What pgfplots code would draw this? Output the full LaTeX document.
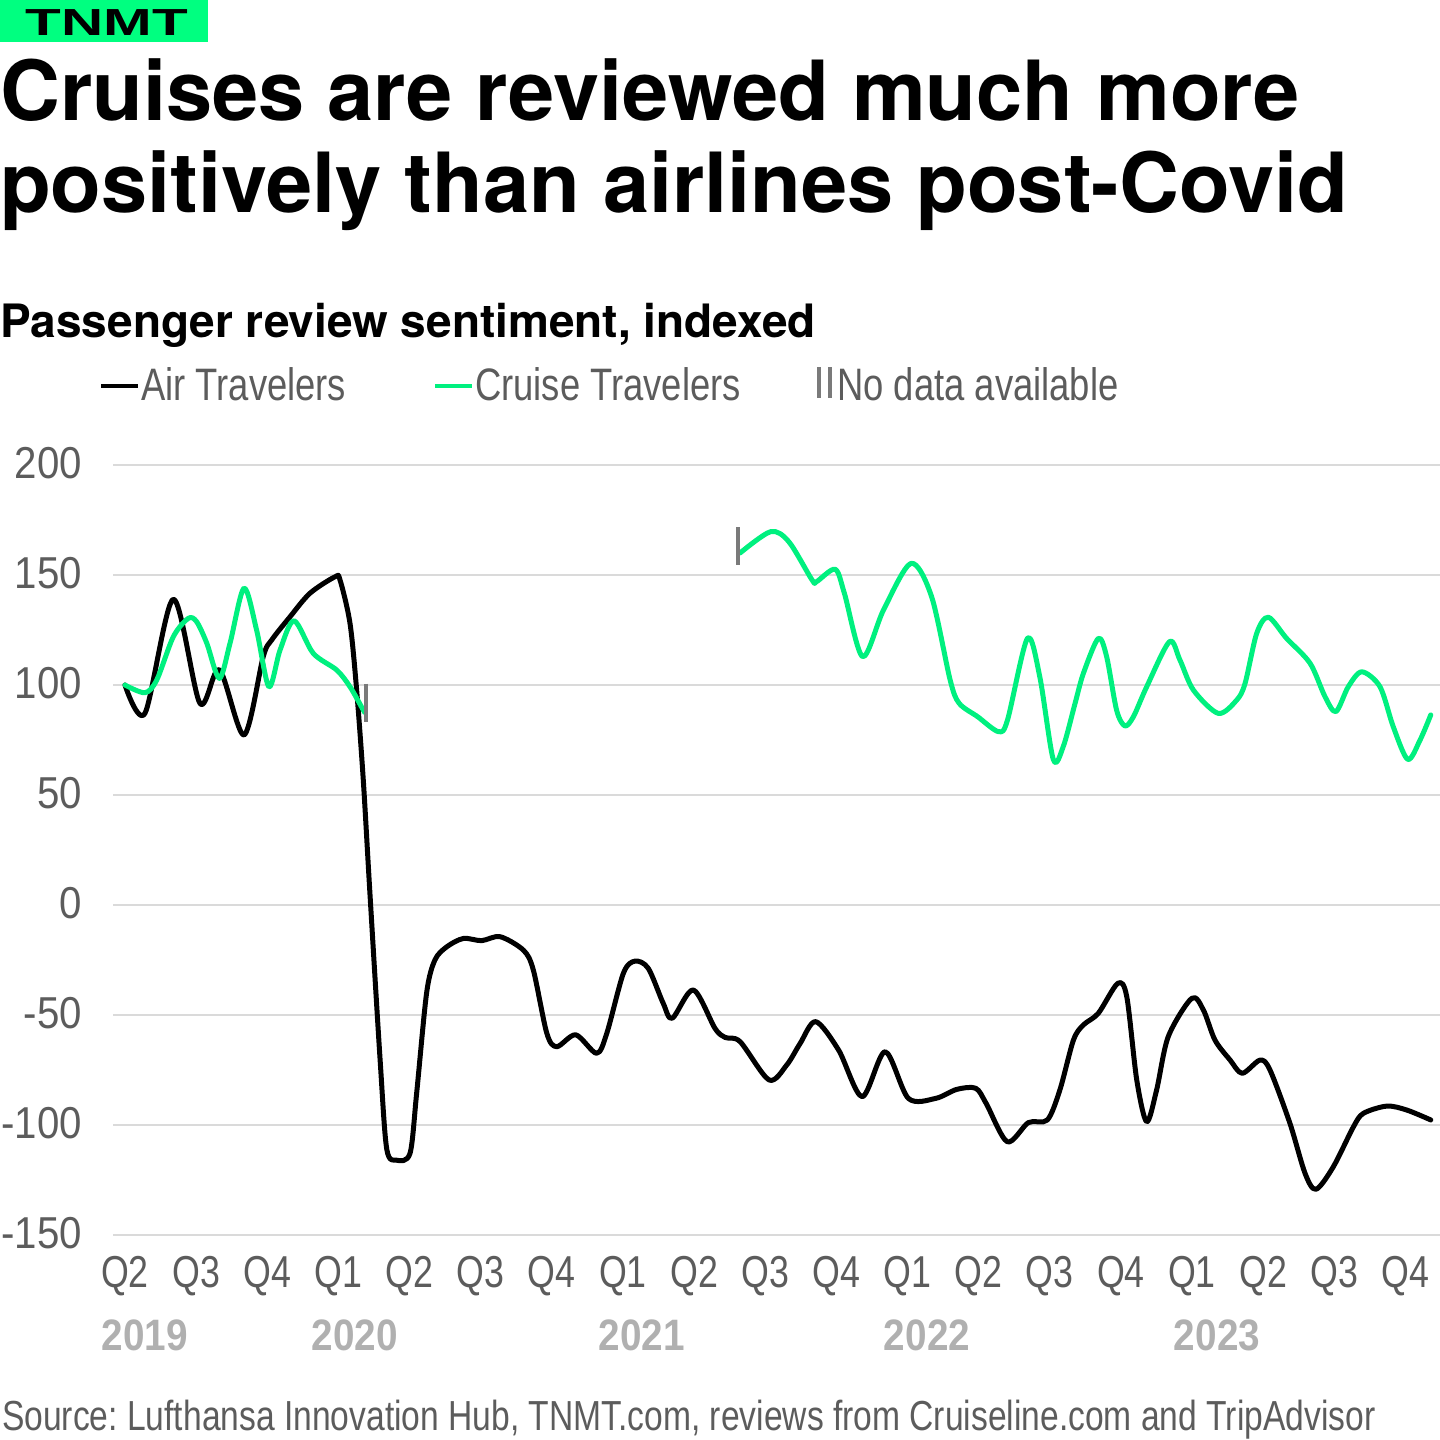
\documentclass[border=0pt]{standalone}
\usepackage{pgfplots}
\pgfplotsset{compat=1.18}
\usepackage{fontspec}
\setmainfont{Liberation Sans}
\newfontfamily\titlefont{TeX Gyre Heros}
\newfontfamily\narrowfont[FakeStretch=0.8]{Liberation Sans}
\newfontfamily\digitfont[FakeStretch=0.9]{Liberation Sans}
\newfontfamily\yearfont[FakeStretch=0.88]{Liberation Sans}
\newfontfamily\logofont[FakeStretch=1.55]{Liberation Sans}
\frenchspacing

\definecolor{cruise}{HTML}{00F07F}
\definecolor{logogreen}{HTML}{00FF80}
\definecolor{txtgray}{HTML}{5C5C5C}
\definecolor{yeargray}{HTML}{B0B0B0}
\definecolor{gridgray}{HTML}{DADADA}
\definecolor{bargray}{HTML}{7A7A7A}

% x = months since April 2019
\pgfplotstableread{
m v
0 100
0.84 87.1
2.04 139
3.16 91.7
3.98 107
5.02 77.3
5.83 112.9
6.19 120.5
6.96 131
7.80 141.7
8.86 149.2
9.07 147.7
9.49 128
9.77 97.7
10.05 56.8
10.33 5.3
10.76 -70.5
11.04 -111
11.46 -116
12.02 -112.9
12.30 -85.6
12.72 -40
13.07 -25
13.57 -19
14.27 -15.2
15.04 -16.2
15.82 -14.4
16.80 -20.5
17.22 -29.5
17.79 -58.3
18.21 -64.4
19.01 -59
19.89 -67.4
20.32 -58.3
21.02 -31
21.51 -25.5
22.07 -28.8
22.70 -44.7
23.08 -51.5
23.97 -38.6
24.88 -56
25.31 -60.2
25.94 -62.1
27.16 -79.5
27.91 -72.7
28.47 -63
29.13 -53
30.10 -66
31.09 -87.1
32.06 -66.7
33.04 -87.9
34.19 -87.9
35.08 -83.8
35.88 -83.3
36.32 -90.2
37.21 -107.6
38.10 -98.9
38.90 -97.7
39.43 -84
40.00 -61.4
40.42 -54.5
41.05 -49.2
41.87 -35.6
42.25 -41.7
42.67 -79.5
43.09 -98.5
43.51 -84
44.00 -59.8
44.99 -42.4
45.48 -47.7
45.97 -61.4
46.61 -70.5
47.12 -76.5
47.87 -70.5
48.29 -75
49.13 -99.2
49.77 -122
50.23 -129.2
50.96 -119
51.81 -100.8
52.23 -94.7
53.22 -91.4
54.06 -93.2
55.07 -97.7
}\airdata

\pgfplotstableread{
m v
0 100
0.84 96.5
1.34 102.3
2.04 122
2.67 130.3
3.02 128.8
3.45 119
3.98 103
4.43 119
5.02 144
5.55 125
6.07 99.2
6.54 115.9
7.13 129.2
7.94 114.4
8.93 106.8
9.49 99.2
10.05 88.6
10.12 87.5
}\cruiseearly

\pgfplotstableread{
m v
25.94 160
27.23 169.7
28.00 165.1
28.98 147.7
29.17 147
29.95 152.6
30.34 141.7
31.11 112.9
31.99 134.1
33.15 155.3
34.02 140.1
34.80 102.3
35.18 91.7
35.96 85.6
36.84 78.8
37.22 84.1
38.06 121.2
38.58 103.8
39.15 66.2
39.57 72
40.07 91.7
40.42 105.3
41.05 121.2
41.40 112.9
41.82 88.6
42.17 81.4
42.53 85.6
43.09 99.2
44.05 119.7
44.49 111.4
45.06 97.7
46.11 87.1
46.89 93.2
47.24 100.8
47.73 123.5
48.22 130.8
48.99 121.2
49.98 109.9
50.61 94.7
51.07 87.9
51.59 99.2
52.16 106
52.93 99.2
53.49 81
54.10 66.2
54.62 75
55.07 86.4
}\cruiselate

\begin{document}
\begin{tikzpicture}
\path[use as bounding box] (0pt,0pt) rectangle (1440pt,-1440pt);

% logo
\fill[logogreen] (0pt,0pt) rectangle (208pt,-42pt);
\node[anchor=base, inner sep=0pt] at (107pt,-35pt) {\logofont\bfseries\fontsize{37.7}{40}\selectfont TNMT};

% title and subtitle
\node[anchor=base west, inner sep=0pt] at (0pt,-120pt) {\titlefont\bfseries\fontsize{83}{90}\selectfont Cruises are reviewed much more};
\node[anchor=base west, inner sep=0pt] at (0pt,-212pt) {\titlefont\bfseries\fontsize{83}{90}\selectfont positively than airlines post-Covid};
\node[anchor=base west, inner sep=0pt] at (0pt,-337pt) {\titlefont\bfseries\fontsize{46}{50}\selectfont Passenger review sentiment, indexed};

% legend
\draw[black, line width=4pt] (101pt,-386pt) -- (138pt,-386pt);
\node[anchor=base west, inner sep=0pt, text=txtgray] at (141pt,-400pt) {\narrowfont\fontsize{45.5}{50}\selectfont Air Travelers};
\draw[cruise, line width=4pt] (435pt,-386pt) -- (472pt,-386pt);
\node[anchor=base west, inner sep=0pt, text=txtgray] at (475pt,-400pt) {\narrowfont\fontsize{45.5}{50}\selectfont Cruise Travelers};
\draw[bargray, line width=4.5pt] (819pt,-367pt) -- (819pt,-398pt);
\draw[bargray, line width=4.5pt] (830pt,-367pt) -- (830pt,-398pt);
\node[anchor=base west, inner sep=0pt, text=txtgray] at (837pt,-400pt) {\narrowfont\fontsize{45.5}{50}\selectfont No data available};

\begin{axis}[
  at={(113pt,-1235pt)}, anchor=south west,
  scale only axis, width=1327pt, height=770pt,
  xmin=-0.506, xmax=55.46, ymin=-150, ymax=200,
  ytick={-150,-100,-50,0,50,100,150,200},
  yticklabels={-150,-100,-50,0,50,100,150,200},
  xtick={0,3,...,54},
  xticklabels={Q2,Q3,Q4,Q1,Q2,Q3,Q4,Q1,Q2,Q3,Q4,Q1,Q2,Q3,Q4,Q1,Q2,Q3,Q4},
  ymajorgrids,
  grid style={gridgray, line width=2pt},
  axis line style={draw=none},
  tick style={draw=none},
  major tick length=0pt,
  xticklabel style={anchor=base, yshift=-52pt, inner sep=0pt, text=txtgray,
    font=\narrowfont\fontsize{44.7}{50}\selectfont},
  yticklabel style={anchor=east, xshift=-31pt, yshift=2pt, inner sep=0pt, text=txtgray,
    font=\digitfont\fontsize{44.7}{50}\selectfont},
  /pgf/number format/assume math mode=true,
]
\addplot[black, line width=5pt, smooth, tension=0.5, line join=round, line cap=round] table[x=m, y=v] {\airdata};
\addplot[cruise, line width=5pt, smooth, tension=0.5, line join=round, line cap=round] table[x=m, y=v] {\cruiseearly};
\addplot[cruise, line width=5pt, smooth, tension=0.5, line join=round, line cap=round] table[x=m, y=v] {\cruiselate};
% gaps in the cruise series
\addplot[only marks, mark=|, mark size=19pt, mark options={line width=4pt, draw=bargray}] coordinates {(10.15,92) (25.87,163)};
\end{axis}

% years
\node[anchor=base, inner sep=0pt, text=yeargray] at (145pt,-1350pt) {\yearfont\bfseries\fontsize{44}{50}\selectfont 2019};
\node[anchor=base, inner sep=0pt, text=yeargray] at (355pt,-1350pt) {\yearfont\bfseries\fontsize{44}{50}\selectfont 2020};
\node[anchor=base, inner sep=0pt, text=yeargray] at (642pt,-1350pt) {\yearfont\bfseries\fontsize{44}{50}\selectfont 2021};
\node[anchor=base, inner sep=0pt, text=yeargray] at (927pt,-1350pt) {\yearfont\bfseries\fontsize{44}{50}\selectfont 2022};
\node[anchor=base, inner sep=0pt, text=yeargray] at (1217pt,-1350pt) {\yearfont\bfseries\fontsize{44}{50}\selectfont 2023};

% source
\node[anchor=base west, inner sep=0pt, text=txtgray] at (2pt,-1430pt) {\narrowfont\fontsize{42}{50}\selectfont Source: Lufthansa Innovation Hub, TNMT.com, reviews from Cruiseline.com and TripAdvisor};
\end{tikzpicture}
\end{document}
